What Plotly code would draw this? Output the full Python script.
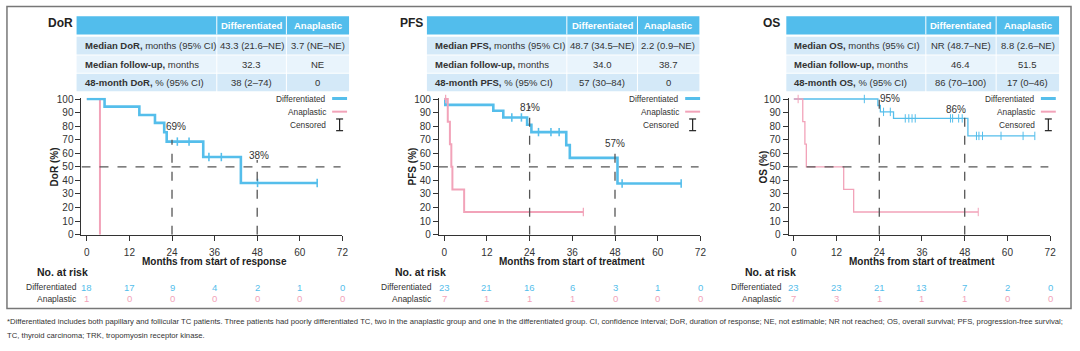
import plotly.graph_objects as go

W, H = 1080, 351


def px(x):
    return x / W


def py(y):
    return 1 - y / H


BLUE = "#55BEEB"
PINK = "#F2A3B9"
HEADER = "#52BDEC"
ROW_DARK = "#D4E9F8"
ROW_LIGHT = "#E9F4FC"
TXT = "#333333"
DASH = "#555555"
FONT = "Liberation Sans Narrow, Arial Narrow, Liberation Sans, Arial, sans-serif"

# ---------------- data ----------------
month_ticks = [0, 12, 24, 36, 48, 60, 72]
y_ticks = [0, 10, 20, 30, 40, 50, 60, 70, 80, 90, 100]

# DoR
dor_diff_t = [0, 5.0, 14.8, 19.2, 21.8, 22.5, 32.8, 43.4, 64.9]
dor_diff_s = [100, 94.4, 88.2, 82.4, 75.5, 68.6, 57.2, 38.1, 38.1]
dor_diff_cens_t = [25.5, 28.8, 34.4, 37.9, 48.1, 64.9]
dor_diff_cens_s = [68.6, 68.6, 57.2, 57.2, 38.1, 38.1]
dor_ana_t = [0, 3.7]
dor_ana_s = [100, 0]
dor_ana_cens_t = []
dor_ana_cens_s = []

# PFS
pfs_diff_t = [0, 0.3, 13.8, 16.6, 23.3, 24.5, 34.3, 35.3, 48.7, 66.6]
pfs_diff_s = [100, 95.7, 91.3, 86.4, 81.0, 75.6, 66.0, 56.6, 37.7, 37.7]
pfs_diff_cens_t = [19.0, 21.7, 26.5, 30.0, 32.3, 50.0, 66.6]
pfs_diff_cens_s = [86.4, 86.4, 75.6, 75.6, 75.6, 37.7, 37.7]
pfs_ana_t = [0, 1.0, 1.6, 2.0, 2.3, 5.6, 39.1]
pfs_ana_s = [100, 83.3, 66.7, 50.0, 33.3, 16.7, 16.7]
pfs_ana_cens_t = [0.4, 39.1]
pfs_ana_cens_s = [100, 16.7]

# OS
os_diff_t = [0, 23.6, 24.3, 28.0, 48.9, 67.7]
os_diff_s = [100, 95.2, 90.5, 85.7, 72.8, 72.8]
os_diff_cens_t = [19.8, 25.2, 27.1, 31.3, 32.3, 33.2, 34.1, 44.0, 44.6, 46.3, 47.3,
                  51.3, 52.0, 53.0, 58.2, 64.4, 67.7]
os_diff_cens_s = [100, 90.5, 90.5, 85.7, 85.7, 85.7, 85.7, 85.7, 85.7, 85.7, 85.7,
                  72.8, 72.8, 72.8, 72.8, 72.8, 72.8]
os_ana_t = [0, 2.5, 3.1, 3.5, 14.0, 16.8, 51.8]
os_ana_s = [100, 83.3, 66.7, 50.0, 33.3, 16.7, 16.7]
os_ana_cens_t = [1.2, 51.8]
os_ana_cens_s = [100, 16.7]

# risk tables
dor_risk_diff = [18, 17, 9, 4, 2, 1, 0]
dor_risk_ana = [1, 0, 0, 0, 0, 0, 0]
pfs_risk_diff = [23, 21, 16, 6, 3, 1, 0]
pfs_risk_ana = [7, 1, 1, 1, 0, 0, 0]
os_risk_diff = [23, 23, 21, 13, 7, 2, 0]
os_risk_ana = [7, 3, 1, 1, 1, 0, 0]

# summary tables
table_header = ["Differentiated", "Anaplastic"]
dor_rows = ["<b>Median DoR,</b> months (95% CI)", "<b>Median follow-up,</b> months",
            "<b>48-month DoR,</b> % (95% CI)"]
dor_diff_vals = ["43.3 (21.6–NE)", "32.3", "38 (2–74)"]
dor_ana_vals = ["3.7 (NE–NE)", "NE", "0"]
pfs_rows = ["<b>Median PFS,</b> months (95% CI)", "<b>Median follow-up,</b> months",
            "<b>48-month PFS,</b> % (95% CI)"]
pfs_diff_vals = ["48.7 (34.5–NE)", "34.0", "57 (30–84)"]
pfs_ana_vals = ["2.2 (0.9–NE)", "38.7", "0"]
os_rows = ["<b>Median OS,</b> months (95% CI)", "<b>Median follow-up,</b> months",
           "<b>48-month OS,</b> % (95% CI)"]
os_diff_vals = ["NR (48.7–NE)", "46.4", "86 (70–100)"]
os_ana_vals = ["8.8 (2.6–NE)", "51.5", "17 (0–46)"]

# landmark labels
dor_marks = [("69%", 25.1, 79.5), ("38%", 48.4, 58.5)]
pfs_marks = [("81%", 24.0, 93.5), ("57%", 47.9, 67.5)]
os_marks = [("95%", 27.1, 100.5), ("86%", 45.6, 92.5)]

footnote_lines = [
    "*Differentiated includes both papillary and follicular TC patients. Three patients had poorly "
    "differentiated TC, two in the anaplastic group and one in the differentiated group. CI, confidence "
    "interval; DoR, duration of response; NE, not estimable; NR not reached; OS, overall survival; PFS, "
    "progression-free survival;",
    "TC, thyroid carcinoma; TRK, tropomyosin receptor kinase.",
]

# ---------------- panels ----------------
panels = [
    dict(name="DoR", ylab="DoR (%)", xlab="Months from start of response", title_x=46,
         tab=[77, 218, 288, 351], x0=87.3, x72=344.3, ylab_x=55, leg_r=330,
         risk_r=79, risk_l=35,
         diff=(dor_diff_t, dor_diff_s, dor_diff_cens_t, dor_diff_cens_s),
         ana=(dor_ana_t, dor_ana_s, dor_ana_cens_t, dor_ana_cens_s),
         risk=(dor_risk_diff, dor_risk_ana), rows=(dor_rows, dor_diff_vals, dor_ana_vals),
         marks=dor_marks, vtops=(70, 55), lw=(2.6, 2.0), ana_first=True),
    dict(name="PFS", ylab="PFS (%)", xlab="Months from start of treatment", title_x=400,
         tab=[429.3, 570, 641, 703.3], x0=446.7, x72=704.3, ylab_x=415, leg_r=685,
         risk_r=436, risk_l=395,
         diff=(pfs_diff_t, pfs_diff_s, pfs_diff_cens_t, pfs_diff_cens_s),
         ana=(pfs_ana_t, pfs_ana_s, pfs_ana_cens_t, pfs_ana_cens_s),
         risk=(pfs_risk_diff, pfs_risk_ana), rows=(pfs_rows, pfs_diff_vals, pfs_ana_vals),
         marks=pfs_marks, vtops=(95, 62), lw=(2.6, 2.0), ana_first=False),
    dict(name="OS", ylab="OS (%)", xlab="Months from start of treatment", title_x=765,
         tab=[790.7, 931, 1001.7, 1065], x0=798.3, x72=1056, ylab_x=768, leg_r=1042.7,
         risk_r=788, risk_l=747,
         diff=(os_diff_t, os_diff_s, os_diff_cens_t, os_diff_cens_s),
         ana=(os_ana_t, os_ana_s, os_ana_cens_t, os_ana_cens_s),
         risk=(os_risk_diff, os_risk_ana), rows=(os_rows, os_diff_vals, os_ana_vals),
         marks=os_marks, vtops=(100, 89), lw=(1.3, 1.3), ana_first=False),
]

Y0PX, Y100PX = 236.7, 97.5
YTOP = 101
ytop_px = Y100PX - (Y0PX - Y100PX) / 100 * (YTOP - 100)
XMIN = -1.5

fig = go.Figure()
shapes = []
annots = []
layout_axes = {}

HDR_Y = (12.5, 31.3)
ROW_Y = [(33.5, 51.8), (52.8, 70.6), (71.6, 89.5)]


def note(text, x, y, xref="paper", yref="paper", xanchor="center", yanchor="middle", size=9.5,
         color=TXT, bold=False, **kw):
    if bold:
        text = "<b>" + text + "</b>"
    d = dict(text=text, x=x, y=y, xref=xref, yref=yref, xanchor=xanchor, yanchor=yanchor,
             showarrow=False, font=dict(size=size, color=color, family=FONT))
    d.update(kw)
    annots.append(d)


for i, p in enumerate(panels):
    sfx = "" if i == 0 else str(i + 1)
    xr, yr = "x" + sfx, "y" + sfx
    scale = (p["x72"] - p["x0"]) / 72
    xl = p["x0"] + XMIN * scale
    layout_axes["xaxis" + sfx] = dict(
        domain=[px(xl), px(p["x72"])], range=[XMIN, 72], tickvals=month_ticks,
        ticks="outside", ticklen=5, tickwidth=1, tickcolor=TXT, showline=True,
        linecolor=TXT, linewidth=1, showgrid=False, zeroline=False, ticklabelstandoff=3,
        tickfont=dict(size=10, color=TXT, family=FONT), anchor=yr, fixedrange=True)
    layout_axes["yaxis" + sfx] = dict(
        domain=[py(Y0PX), py(ytop_px)], range=[0, YTOP], tickvals=y_ticks,
        ticks="outside", ticklen=5, tickwidth=1, tickcolor=TXT, showline=True,
        linecolor=TXT, linewidth=1, showgrid=False, zeroline=False,
        tickfont=dict(size=10, color=TXT, family=FONT), anchor=xr, fixedrange=True)

    def add_curve(d, color, lw):
        t, s, ct, cs = d
        fig.add_trace(go.Scatter(x=t, y=s, mode="lines", line=dict(color=color, width=lw, shape="hv"),
                                 xaxis=xr, yaxis=yr, showlegend=False, hoverinfo="skip"))
        if ct:
            fig.add_trace(go.Scatter(x=ct, y=cs, mode="markers",
                                     marker=dict(symbol="line-ns-open", size=6, color=color,
                                                 line=dict(color=color, width=max(1.0, lw * 0.6))),
                                     xaxis=xr, yaxis=yr, showlegend=False, hoverinfo="skip",
                                     cliponaxis=False))

    if p["ana_first"]:
        add_curve(p["ana"], PINK, p["lw"][1])
        add_curve(p["diff"], BLUE, p["lw"][0])
    else:
        add_curve(p["diff"], BLUE, p["lw"][0])
        add_curve(p["ana"], PINK, p["lw"][1])

    # dashed reference lines
    shapes.append(dict(type="line", xref=xr, yref=yr, x0=XMIN, x1=71.5, y0=50, y1=50,
                       line=dict(color=DASH, width=1.3, dash="dash")))
    for xv, top in zip([24, 48], p["vtops"]):
        shapes.append(dict(type="line", xref=xr, yref=yr, x0=xv, x1=xv, y0=0, y1=top,
                           line=dict(color=DASH, width=1.3, dash="dash")))
    for txt, mx, my in p["marks"]:
        note(txt, mx, my, xref=xr, yref=yr, size=10)

    # axis titles
    note(p["xlab"], (p["x0"] + p["x72"]) / 2 / W, py(264), bold=True, size=10, color="#222")
    note(p["ylab"], px(p["ylab_x"]), py(167), bold=True, size=10, color="#222", textangle=-90)

    # legend
    for k, (lab, col) in enumerate([("Differentiated", BLUE), ("Anaplastic", PINK), ("Censored", None)]):
        yy = [97, 110.5, 124][k]
        note(lab, px(p["leg_r"]), py(yy), xanchor="right", size=8.3)
        lx0, lx1 = p["leg_r"] + 4, p["leg_r"] + 19
        if col:
            shapes.append(dict(type="line", xref="paper", yref="paper", x0=px(lx0), x1=px(lx1),
                               y0=py(yy), y1=py(yy), line=dict(color=col, width=3 if k == 0 else 2)))
        else:
            cx = (lx0 + lx1) / 2
            shapes.append(dict(type="line", xref="paper", yref="paper", x0=px(cx), x1=px(cx),
                               y0=py(yy - 6), y1=py(yy + 6), line=dict(color="#222", width=1.2)))
            for yy2 in (yy - 6, yy + 6):
                shapes.append(dict(type="line", xref="paper", yref="paper", x0=px(cx - 3.5), x1=px(cx + 3.5),
                                   y0=py(yy2), y1=py(yy2), line=dict(color="#222", width=1.2)))

    # risk table
    note("No. at risk", px(p["risk_l"]), py(275), xanchor="left", bold=True, size=10.5, color="#222")
    for k, (lab, vals, col) in enumerate([("Differentiated", p["risk"][0], BLUE),
                                          ("Anaplastic", p["risk"][1], PINK)]):
        yy = [290.5, 302.5][k]
        note(lab, px(p["risk_r"]), py(yy), xanchor="right", size=8.5)
        for mt, v in zip(month_ticks, vals):
            note(str(v), mt, py(yy), xref=xr, size=9.5, color=col)

    # summary table
    note(p["name"], px(p["title_x"]), py(20), xanchor="left", bold=True, size=12, color="#222")
    c = p["tab"]
    shapes.append(dict(type="rect", xref="paper", yref="paper", x0=px(c[0]), x1=px(c[3]),
                       y0=py(HDR_Y[1]), y1=py(HDR_Y[0]), fillcolor=HEADER, line=dict(width=0), layer="below"))
    for j in (1, 2):
        shapes.append(dict(type="line", xref="paper", yref="paper", x0=px(c[j]), x1=px(c[j]),
                           y0=py(HDR_Y[1]), y1=py(HDR_Y[0]), line=dict(color="white", width=1)))
        note(table_header[j - 1], px((c[j] + c[j + 1]) / 2), py(sum(HDR_Y) / 2), bold=True,
             size=9.5, color="white")
    labels, dvals, avals = p["rows"]
    for r, (y0, y1) in enumerate(ROW_Y):
        fill = ROW_LIGHT if r == 1 else ROW_DARK
        for j in range(3):
            shapes.append(dict(type="rect", xref="paper", yref="paper", x0=px(c[j] + (0.5 if j else 0)),
                               x1=px(c[j + 1] - (0.5 if j < 2 else 0)), y0=py(y1), y1=py(y0),
                               fillcolor=fill, line=dict(width=0), layer="below"))
        ym = py((y0 + y1) / 2)
        note(labels[r], px(c[0] + 6), ym, xanchor="left", size=9.5)
        note(dvals[r], px((c[1] + c[2]) / 2), ym, size=9.5)
        note(avals[r], px((c[2] + c[3]) / 2), ym, size=9.5)

# outer frame
shapes.append(dict(type="rect", xref="paper", yref="paper", x0=px(7), x1=px(1077), y0=py(312.5), y1=py(2.5),
                   line=dict(color="#777777", width=1.5), fillcolor="rgba(0,0,0,0)"))

# footnote
for k, line in enumerate(footnote_lines):
    note(line, px(5), py([325.5, 340][k]), xanchor="left", size=7.7)

fig.update_layout(width=W, height=H, margin=dict(l=0, r=0, t=0, b=0), paper_bgcolor="white",
                  plot_bgcolor="white", showlegend=False, shapes=shapes, annotations=annots,
                  font=dict(family=FONT, color=TXT), **layout_axes)

fig.write_html("out.html")
